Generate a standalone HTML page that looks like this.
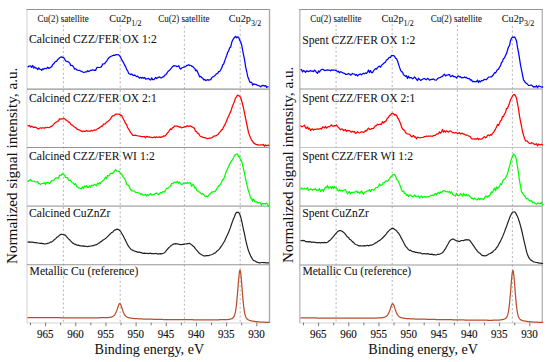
<!DOCTYPE html>
<html><head><meta charset="utf-8"><style>
html,body{margin:0;padding:0;background:#fff;}
svg{display:block;font-family:"Liberation Serif", serif;}
text{stroke:#111;stroke-width:0.05px;}
</style></head><body>
<svg width="550" height="362" viewBox="0 0 550 362">
<rect width="550" height="362" fill="#fff"/>
<line x1="63.40" y1="25.00" x2="63.40" y2="323.0" stroke="#bababa" stroke-width="1.1" stroke-dasharray="2,2.336"/>
<line x1="120.20" y1="25.00" x2="120.20" y2="323.0" stroke="#bababa" stroke-width="1.1" stroke-dasharray="2,2.336"/>
<line x1="184.40" y1="26.30" x2="184.40" y2="323.0" stroke="#bababa" stroke-width="1.1" stroke-dasharray="2,2.336"/>
<line x1="240.20" y1="25.00" x2="240.20" y2="323.0" stroke="#bababa" stroke-width="1.1" stroke-dasharray="2,2.336"/>
<line x1="27.0" y1="323.0" x2="269.5" y2="323.0" stroke="#d6d6d6" stroke-width="1.2"/>
<line x1="27.0" y1="9.45" x2="27.0" y2="323.0" stroke="#e2e2e2" stroke-width="1.6"/>
<line x1="26.4" y1="9.45" x2="270.1" y2="9.45" stroke="#939393" stroke-width="1.05"/>
<line x1="269.5" y1="9.45" x2="269.5" y2="323.0" stroke="#aaaaaa" stroke-width="1.4"/>
<line x1="27.0" y1="89.1" x2="269.5" y2="89.1" stroke="#969696" stroke-width="1.05"/>
<line x1="27.0" y1="147.45" x2="269.5" y2="147.45" stroke="#969696" stroke-width="1.05"/>
<line x1="27.0" y1="206.1" x2="269.5" y2="206.1" stroke="#a4a4a4" stroke-width="1.05"/>
<line x1="27.0" y1="264.65" x2="269.5" y2="264.65" stroke="#969696" stroke-width="1.05"/>
<line x1="30.51" y1="322.6" x2="30.51" y2="325.3" stroke="#777" stroke-width="1"/>
<line x1="45.60" y1="322.6" x2="45.60" y2="326.2" stroke="#777" stroke-width="1"/>
<text transform="translate(45.30,337.6) scale(0.95,1)" x="0" y="0" font-size="11.6" text-anchor="middle" fill="#111" style="stroke-width:0.15px">965</text>
<line x1="60.68" y1="322.6" x2="60.68" y2="325.3" stroke="#777" stroke-width="1"/>
<line x1="75.77" y1="322.6" x2="75.77" y2="326.2" stroke="#777" stroke-width="1"/>
<text transform="translate(75.47,337.6) scale(0.95,1)" x="0" y="0" font-size="11.6" text-anchor="middle" fill="#111" style="stroke-width:0.15px">960</text>
<line x1="90.85" y1="322.6" x2="90.85" y2="325.3" stroke="#777" stroke-width="1"/>
<line x1="105.94" y1="322.6" x2="105.94" y2="326.2" stroke="#777" stroke-width="1"/>
<text transform="translate(105.64,337.6) scale(0.95,1)" x="0" y="0" font-size="11.6" text-anchor="middle" fill="#111" style="stroke-width:0.15px">955</text>
<line x1="121.02" y1="322.6" x2="121.02" y2="325.3" stroke="#777" stroke-width="1"/>
<line x1="136.11" y1="322.6" x2="136.11" y2="326.2" stroke="#777" stroke-width="1"/>
<text transform="translate(135.81,337.6) scale(0.95,1)" x="0" y="0" font-size="11.6" text-anchor="middle" fill="#111" style="stroke-width:0.15px">950</text>
<line x1="151.19" y1="322.6" x2="151.19" y2="325.3" stroke="#777" stroke-width="1"/>
<line x1="166.28" y1="322.6" x2="166.28" y2="326.2" stroke="#777" stroke-width="1"/>
<text transform="translate(165.98,337.6) scale(0.95,1)" x="0" y="0" font-size="11.6" text-anchor="middle" fill="#111" style="stroke-width:0.15px">945</text>
<line x1="181.37" y1="322.6" x2="181.37" y2="325.3" stroke="#777" stroke-width="1"/>
<line x1="196.45" y1="322.6" x2="196.45" y2="326.2" stroke="#777" stroke-width="1"/>
<text transform="translate(196.15,337.6) scale(0.95,1)" x="0" y="0" font-size="11.6" text-anchor="middle" fill="#111" style="stroke-width:0.15px">940</text>
<line x1="211.54" y1="322.6" x2="211.54" y2="325.3" stroke="#777" stroke-width="1"/>
<line x1="226.62" y1="322.6" x2="226.62" y2="326.2" stroke="#777" stroke-width="1"/>
<text transform="translate(226.32,337.6) scale(0.95,1)" x="0" y="0" font-size="11.6" text-anchor="middle" fill="#111" style="stroke-width:0.15px">935</text>
<line x1="241.70" y1="322.6" x2="241.70" y2="325.3" stroke="#777" stroke-width="1"/>
<line x1="256.79" y1="322.6" x2="256.79" y2="326.2" stroke="#777" stroke-width="1"/>
<text transform="translate(256.49,337.6) scale(0.95,1)" x="0" y="0" font-size="11.6" text-anchor="middle" fill="#111" style="stroke-width:0.15px">930</text>
<line x1="336.10" y1="24.70" x2="336.10" y2="323.0" stroke="#bababa" stroke-width="1.1" stroke-dasharray="2,2.336"/>
<line x1="392.20" y1="24.20" x2="392.20" y2="323.0" stroke="#bababa" stroke-width="1.1" stroke-dasharray="2,2.336"/>
<line x1="457.40" y1="25.00" x2="457.40" y2="323.0" stroke="#bababa" stroke-width="1.1" stroke-dasharray="2,2.336"/>
<line x1="512.40" y1="26.10" x2="512.40" y2="323.0" stroke="#bababa" stroke-width="1.1" stroke-dasharray="2,2.336"/>
<line x1="299.8" y1="323.0" x2="542.3" y2="323.0" stroke="#d6d6d6" stroke-width="1.2"/>
<line x1="299.8" y1="9.45" x2="299.8" y2="323.0" stroke="#c4c4c4" stroke-width="1.6"/>
<line x1="299.2" y1="9.45" x2="542.9" y2="9.45" stroke="#939393" stroke-width="1.05"/>
<line x1="542.3" y1="9.45" x2="542.3" y2="323.0" stroke="#b8b8b8" stroke-width="1.4"/>
<line x1="299.8" y1="88.9" x2="542.3" y2="88.9" stroke="#969696" stroke-width="1.05"/>
<line x1="299.8" y1="147.45" x2="542.3" y2="147.45" stroke="#c4c4c4" stroke-width="1.05"/>
<line x1="299.8" y1="206.1" x2="542.3" y2="206.1" stroke="#a4a4a4" stroke-width="1.05"/>
<line x1="299.8" y1="264.9" x2="542.3" y2="264.9" stroke="#969696" stroke-width="1.05"/>
<line x1="303.52" y1="322.6" x2="303.52" y2="325.3" stroke="#777" stroke-width="1"/>
<line x1="318.60" y1="322.6" x2="318.60" y2="326.2" stroke="#777" stroke-width="1"/>
<text transform="translate(318.30,337.6) scale(0.95,1)" x="0" y="0" font-size="11.6" text-anchor="middle" fill="#111" style="stroke-width:0.15px">965</text>
<line x1="333.69" y1="322.6" x2="333.69" y2="325.3" stroke="#777" stroke-width="1"/>
<line x1="348.77" y1="322.6" x2="348.77" y2="326.2" stroke="#777" stroke-width="1"/>
<text transform="translate(348.47,337.6) scale(0.95,1)" x="0" y="0" font-size="11.6" text-anchor="middle" fill="#111" style="stroke-width:0.15px">960</text>
<line x1="363.86" y1="322.6" x2="363.86" y2="325.3" stroke="#777" stroke-width="1"/>
<line x1="378.94" y1="322.6" x2="378.94" y2="326.2" stroke="#777" stroke-width="1"/>
<text transform="translate(378.64,337.6) scale(0.95,1)" x="0" y="0" font-size="11.6" text-anchor="middle" fill="#111" style="stroke-width:0.15px">955</text>
<line x1="394.03" y1="322.6" x2="394.03" y2="325.3" stroke="#777" stroke-width="1"/>
<line x1="409.11" y1="322.6" x2="409.11" y2="326.2" stroke="#777" stroke-width="1"/>
<text transform="translate(408.81,337.6) scale(0.95,1)" x="0" y="0" font-size="11.6" text-anchor="middle" fill="#111" style="stroke-width:0.15px">950</text>
<line x1="424.19" y1="322.6" x2="424.19" y2="325.3" stroke="#777" stroke-width="1"/>
<line x1="439.28" y1="322.6" x2="439.28" y2="326.2" stroke="#777" stroke-width="1"/>
<text transform="translate(438.98,337.6) scale(0.95,1)" x="0" y="0" font-size="11.6" text-anchor="middle" fill="#111" style="stroke-width:0.15px">945</text>
<line x1="454.37" y1="322.6" x2="454.37" y2="325.3" stroke="#777" stroke-width="1"/>
<line x1="469.45" y1="322.6" x2="469.45" y2="326.2" stroke="#777" stroke-width="1"/>
<text transform="translate(469.15,337.6) scale(0.95,1)" x="0" y="0" font-size="11.6" text-anchor="middle" fill="#111" style="stroke-width:0.15px">940</text>
<line x1="484.54" y1="322.6" x2="484.54" y2="325.3" stroke="#777" stroke-width="1"/>
<line x1="499.62" y1="322.6" x2="499.62" y2="326.2" stroke="#777" stroke-width="1"/>
<text transform="translate(499.32,337.6) scale(0.95,1)" x="0" y="0" font-size="11.6" text-anchor="middle" fill="#111" style="stroke-width:0.15px">935</text>
<line x1="514.70" y1="322.6" x2="514.70" y2="325.3" stroke="#777" stroke-width="1"/>
<line x1="529.79" y1="322.6" x2="529.79" y2="326.2" stroke="#777" stroke-width="1"/>
<text transform="translate(529.49,337.6) scale(0.95,1)" x="0" y="0" font-size="11.6" text-anchor="middle" fill="#111" style="stroke-width:0.15px">930</text>
<path d="M27.7,67.4 L28.7,66.1 L29.7,66.2 L30.7,66.0 L31.7,67.3 L32.7,65.5 L33.7,68.1 L34.7,67.0 L35.7,68.1 L36.7,68.2 L37.7,69.6 L38.7,67.8 L39.7,69.1 L40.7,69.3 L41.7,70.3 L42.7,68.9 L43.7,69.3 L44.7,68.4 L45.7,68.5 L46.7,68.5 L47.7,67.2 L48.7,68.4 L49.7,67.9 L50.7,67.2 L51.7,66.6 L52.7,64.6 L53.7,63.8 L54.7,62.3 L55.7,61.6 L56.7,61.1 L57.7,59.5 L58.7,58.8 L59.7,57.8 L60.7,57.1 L61.7,56.9 L62.7,57.5 L63.7,57.5 L64.7,59.2 L65.7,61.0 L66.7,61.3 L67.7,61.7 L68.7,62.1 L69.7,63.1 L70.7,65.5 L71.7,65.4 L72.7,65.8 L73.7,67.2 L74.7,69.2 L75.7,68.7 L76.7,69.8 L77.7,70.2 L78.7,70.4 L79.7,70.4 L80.7,71.1 L81.7,71.4 L82.7,72.0 L83.7,72.3 L84.7,72.3 L85.7,71.8 L86.7,71.9 L87.7,70.7 L88.7,71.6 L89.7,70.9 L90.7,70.2 L91.7,70.4 L92.7,69.8 L93.7,70.3 L94.7,70.2 L95.7,70.3 L96.7,67.8 L97.7,67.3 L98.7,67.5 L99.7,67.4 L100.7,67.2 L101.7,66.2 L102.7,63.9 L103.7,64.0 L104.7,63.6 L105.7,62.1 L106.7,61.1 L107.7,59.3 L108.7,58.0 L109.7,57.1 L110.7,56.5 L111.7,56.0 L112.7,55.7 L113.7,55.1 L114.7,55.4 L115.7,54.7 L116.7,54.7 L117.7,54.6 L118.7,54.8 L119.7,55.9 L120.7,57.4 L121.7,59.7 L122.7,61.3 L123.7,62.9 L124.7,65.2 L125.7,66.8 L126.7,69.6 L127.7,70.9 L128.7,73.5 L129.7,74.0 L130.7,74.6 L131.7,73.9 L132.7,75.0 L133.7,75.6 L134.7,75.0 L135.7,75.9 L136.7,76.6 L137.7,76.1 L138.7,77.5 L139.7,78.1 L140.7,77.3 L141.7,78.2 L142.7,77.4 L143.7,78.3 L144.7,77.5 L145.7,79.2 L146.7,78.9 L147.7,78.7 L148.7,78.3 L149.7,79.6 L150.7,80.0 L151.7,77.8 L152.7,79.6 L153.7,79.7 L154.7,78.7 L155.7,77.5 L156.7,78.5 L157.7,77.7 L158.7,77.3 L159.7,76.9 L160.7,77.9 L161.7,77.9 L162.7,76.8 L163.7,76.9 L164.7,75.0 L165.7,74.9 L166.7,73.3 L167.7,71.9 L168.7,70.8 L169.7,70.2 L170.7,68.9 L171.7,67.7 L172.7,66.4 L173.7,65.7 L174.7,65.8 L175.7,65.8 L176.7,66.6 L177.7,66.5 L178.7,65.6 L179.7,68.0 L180.7,69.0 L181.7,68.0 L182.7,67.5 L183.7,67.2 L184.7,66.9 L185.7,66.6 L186.7,65.4 L187.7,65.3 L188.7,64.7 L189.7,65.5 L190.7,65.4 L191.7,66.3 L192.7,66.4 L193.7,67.8 L194.7,68.3 L195.7,70.9 L196.7,70.1 L197.7,72.3 L198.7,74.6 L199.7,76.9 L200.7,76.4 L201.7,77.6 L202.7,78.2 L203.7,79.8 L204.7,79.5 L205.7,80.5 L206.7,80.2 L207.7,79.6 L208.7,80.3 L209.7,79.8 L210.7,79.6 L211.7,77.9 L212.7,76.8 L213.7,76.6 L214.7,75.6 L215.7,74.7 L216.7,73.6 L217.7,73.3 L218.7,71.7 L219.7,71.5 L220.7,69.8 L221.7,68.1 L222.7,65.0 L223.7,64.0 L224.7,60.9 L225.7,58.1 L226.7,55.5 L227.7,52.2 L228.7,50.8 L229.7,47.8 L230.7,47.0 L231.7,42.6 L232.7,40.1 L233.7,38.3 L234.7,37.3 L235.7,36.3 L236.7,37.8 L237.7,36.9 L238.7,37.3 L239.7,40.4 L240.7,41.9 L241.7,45.0 L242.7,50.7 L243.7,55.7 L244.7,60.7 L245.7,67.3 L246.7,71.5 L247.7,76.4 L248.7,78.9 L249.7,81.9 L250.7,82.4 L251.7,82.4 L252.7,85.2 L253.7,83.8 L254.7,84.3 L255.7,84.3 L256.7,84.9 L257.7,85.4 L258.7,85.6 L259.7,86.0 L260.7,86.9 L261.7,85.9 L262.7,85.4 L263.7,85.6 L264.7,86.1 L265.7,85.7 L266.7,87.3 L267.7,86.7 L268.5,86.9" fill="none" stroke="#0000ff" stroke-width="1.25" stroke-linejoin="round"/>
<path d="M27.5,125.5 L28.5,125.9 L29.5,125.5 L30.5,127.1 L31.5,126.1 L32.5,126.7 L33.5,127.4 L34.5,127.1 L35.5,127.4 L36.5,127.7 L37.5,128.4 L38.5,129.1 L39.5,128.3 L40.5,127.8 L41.5,128.3 L42.5,127.8 L43.5,127.9 L44.5,128.2 L45.5,127.5 L46.5,127.7 L47.5,127.3 L48.5,127.5 L49.5,127.5 L50.5,126.7 L51.5,126.4 L52.5,125.6 L53.5,124.6 L54.5,123.4 L55.5,122.5 L56.5,122.0 L57.5,121.1 L58.5,121.1 L59.5,118.8 L60.5,119.2 L61.5,118.8 L62.5,118.9 L63.5,118.7 L64.5,118.6 L65.5,119.5 L66.5,120.5 L67.5,120.9 L68.5,122.1 L69.5,122.0 L70.5,124.1 L71.5,124.9 L72.5,125.1 L73.5,126.3 L74.5,127.0 L75.5,127.5 L76.5,128.5 L77.5,129.5 L78.5,129.5 L79.5,130.0 L80.5,130.6 L81.5,131.1 L82.5,131.6 L83.5,131.0 L84.5,131.4 L85.5,131.3 L86.5,130.5 L87.5,131.1 L88.5,131.1 L89.5,131.2 L90.5,131.2 L91.5,130.3 L92.5,130.9 L93.5,130.5 L94.5,129.9 L95.5,130.2 L96.5,129.7 L97.5,128.6 L98.5,128.5 L99.5,127.5 L100.5,127.0 L101.5,126.0 L102.5,126.2 L103.5,124.0 L104.5,124.2 L105.5,123.8 L106.5,122.1 L107.5,121.8 L108.5,120.9 L109.5,120.0 L110.5,118.9 L111.5,117.2 L112.5,115.8 L113.5,115.9 L114.5,115.2 L115.5,114.2 L116.5,114.2 L117.5,114.0 L118.5,114.1 L119.5,114.3 L120.5,115.3 L121.5,115.1 L122.5,117.5 L123.5,119.2 L124.5,121.0 L125.5,123.5 L126.5,124.3 L127.5,127.4 L128.5,129.0 L129.5,130.3 L130.5,132.5 L131.5,133.4 L132.5,135.1 L133.5,135.4 L134.5,135.3 L135.5,135.2 L136.5,135.5 L137.5,135.9 L138.5,136.0 L139.5,136.1 L140.5,136.3 L141.5,136.6 L142.5,136.6 L143.5,136.6 L144.5,136.5 L145.5,137.8 L146.5,136.4 L147.5,136.6 L148.5,137.2 L149.5,136.9 L150.5,137.2 L151.5,137.4 L152.5,137.6 L153.5,137.5 L154.5,136.9 L155.5,137.7 L156.5,136.8 L157.5,137.3 L158.5,137.2 L159.5,136.9 L160.5,137.4 L161.5,136.9 L162.5,137.0 L163.5,135.8 L164.5,136.2 L165.5,135.5 L166.5,134.4 L167.5,132.7 L168.5,132.0 L169.5,130.3 L170.5,128.8 L171.5,129.5 L172.5,127.7 L173.5,127.3 L174.5,126.0 L175.5,126.1 L176.5,126.0 L177.5,126.2 L178.5,126.6 L179.5,127.1 L180.5,126.9 L181.5,127.9 L182.5,127.5 L183.5,127.4 L184.5,126.5 L185.5,127.0 L186.5,126.2 L187.5,125.8 L188.5,126.5 L189.5,126.1 L190.5,125.9 L191.5,126.6 L192.5,127.2 L193.5,127.5 L194.5,128.5 L195.5,131.2 L196.5,131.6 L197.5,133.3 L198.5,133.3 L199.5,135.3 L200.5,136.4 L201.5,136.7 L202.5,136.9 L203.5,137.7 L204.5,137.7 L205.5,137.8 L206.5,138.6 L207.5,138.7 L208.5,138.4 L209.5,138.0 L210.5,138.1 L211.5,137.8 L212.5,137.4 L213.5,136.2 L214.5,136.1 L215.5,135.9 L216.5,135.4 L217.5,134.8 L218.5,134.0 L219.5,132.4 L220.5,131.4 L221.5,129.9 L222.5,129.4 L223.5,127.1 L224.5,125.4 L225.5,123.6 L226.5,121.0 L227.5,118.5 L228.5,116.4 L229.5,114.1 L230.5,112.1 L231.5,109.3 L232.5,105.9 L233.5,103.8 L234.5,101.1 L235.5,98.1 L236.5,96.8 L237.5,95.1 L238.5,95.6 L239.5,96.0 L240.5,97.3 L241.5,100.1 L242.5,104.0 L243.5,108.0 L244.5,113.1 L245.5,118.2 L246.5,122.8 L247.5,127.5 L248.5,132.4 L249.5,135.3 L250.5,137.8 L251.5,140.1 L252.5,141.0 L253.5,142.9 L254.5,143.4 L255.5,144.2 L256.5,144.6 L257.5,144.7 L258.5,145.1 L259.5,145.0 L260.5,144.8 L261.5,144.8 L262.5,145.1 L263.5,144.5 L264.5,146.1 L265.5,145.0 L266.5,145.6 L267.5,145.3 L268.5,145.1 L269.0,145.8" fill="none" stroke="#ff0000" stroke-width="1.25" stroke-linejoin="round"/>
<path d="M27.5,181.7 L28.5,180.8 L29.5,180.8 L30.5,179.5 L31.5,180.9 L32.5,181.0 L33.5,181.5 L34.5,181.3 L35.5,182.0 L36.5,181.9 L37.5,181.5 L38.5,183.4 L39.5,183.7 L40.5,184.6 L41.5,183.6 L42.5,183.5 L43.5,183.4 L44.5,182.6 L45.5,184.4 L46.5,182.6 L47.5,182.3 L48.5,182.7 L49.5,183.6 L50.5,182.3 L51.5,180.9 L52.5,180.5 L53.5,180.7 L54.5,179.4 L55.5,178.2 L56.5,177.8 L57.5,177.9 L58.5,178.1 L59.5,175.2 L60.5,175.3 L61.5,174.9 L62.5,173.5 L63.5,174.6 L64.5,175.0 L65.5,177.5 L66.5,177.6 L67.5,177.5 L68.5,180.2 L69.5,180.3 L70.5,180.2 L71.5,181.9 L72.5,182.7 L73.5,183.3 L74.5,184.7 L75.5,183.7 L76.5,185.9 L77.5,187.3 L78.5,187.6 L79.5,188.1 L80.5,188.3 L81.5,188.7 L82.5,186.8 L83.5,188.3 L84.5,186.1 L85.5,186.8 L86.5,185.5 L87.5,187.4 L88.5,187.3 L89.5,185.9 L90.5,187.2 L91.5,185.2 L92.5,185.6 L93.5,185.4 L94.5,184.2 L95.5,185.0 L96.5,185.8 L97.5,183.1 L98.5,184.0 L99.5,182.6 L100.5,183.5 L101.5,181.8 L102.5,181.1 L103.5,180.3 L104.5,179.1 L105.5,177.1 L106.5,178.4 L107.5,175.5 L108.5,175.9 L109.5,175.3 L110.5,173.3 L111.5,173.4 L112.5,173.5 L113.5,172.2 L114.5,171.2 L115.5,169.5 L116.5,170.8 L117.5,171.1 L118.5,171.4 L119.5,171.7 L120.5,173.6 L121.5,173.9 L122.5,175.7 L123.5,177.8 L124.5,178.3 L125.5,180.5 L126.5,184.1 L127.5,185.0 L128.5,185.0 L129.5,187.5 L130.5,189.4 L131.5,190.9 L132.5,190.8 L133.5,190.8 L134.5,191.0 L135.5,192.4 L136.5,192.5 L137.5,192.3 L138.5,193.0 L139.5,193.2 L140.5,194.4 L141.5,193.6 L142.5,194.7 L143.5,195.1 L144.5,195.0 L145.5,194.2 L146.5,195.9 L147.5,194.5 L148.5,195.4 L149.5,194.5 L150.5,193.7 L151.5,195.0 L152.5,194.8 L153.5,194.3 L154.5,194.3 L155.5,193.4 L156.5,193.1 L157.5,193.3 L158.5,194.7 L159.5,193.7 L160.5,192.5 L161.5,193.1 L162.5,192.0 L163.5,191.6 L164.5,192.0 L165.5,190.2 L166.5,188.5 L167.5,188.1 L168.5,187.9 L169.5,186.7 L170.5,186.2 L171.5,183.5 L172.5,183.7 L173.5,182.9 L174.5,182.1 L175.5,182.6 L176.5,182.3 L177.5,181.3 L178.5,183.2 L179.5,182.2 L180.5,183.8 L181.5,184.1 L182.5,184.3 L183.5,183.0 L184.5,183.1 L185.5,182.8 L186.5,183.6 L187.5,182.4 L188.5,183.2 L189.5,183.2 L190.5,182.8 L191.5,186.3 L192.5,184.9 L193.5,184.6 L194.5,187.9 L195.5,187.3 L196.5,189.7 L197.5,191.2 L198.5,191.2 L199.5,192.3 L200.5,193.1 L201.5,194.2 L202.5,193.6 L203.5,194.4 L204.5,195.6 L205.5,196.6 L206.5,196.2 L207.5,196.8 L208.5,195.6 L209.5,194.2 L210.5,194.0 L211.5,192.0 L212.5,192.2 L213.5,191.5 L214.5,191.7 L215.5,191.1 L216.5,189.1 L217.5,188.0 L218.5,185.9 L219.5,185.4 L220.5,184.1 L221.5,182.5 L222.5,179.6 L223.5,179.6 L224.5,176.8 L225.5,173.6 L226.5,171.0 L227.5,168.8 L228.5,166.8 L229.5,164.4 L230.5,162.6 L231.5,160.9 L232.5,159.6 L233.5,157.8 L234.5,155.4 L235.5,154.8 L236.5,153.9 L237.5,154.0 L238.5,156.8 L239.5,156.3 L240.5,160.0 L241.5,160.7 L242.5,164.3 L243.5,169.0 L244.5,173.1 L245.5,178.5 L246.5,182.8 L247.5,187.1 L248.5,191.1 L249.5,193.8 L250.5,197.9 L251.5,198.5 L252.5,201.3 L253.5,198.9 L254.5,201.4 L255.5,202.1 L256.5,201.7 L257.5,202.9 L258.5,202.8 L259.5,202.3 L260.5,203.1 L261.5,205.2 L262.5,203.5 L263.5,203.8 L264.5,203.5 L265.5,204.1 L266.5,203.1 L267.5,204.1 L268.5,206.2 L269.5,205.2" fill="none" stroke="#00ff00" stroke-width="1.25" stroke-linejoin="round"/>
<path d="M27.5,241.9 L28.5,242.1 L29.5,241.9 L30.5,242.3 L31.5,242.2 L32.5,242.1 L33.5,242.4 L34.5,242.7 L35.5,242.7 L36.5,242.6 L37.5,243.0 L38.5,243.0 L39.5,243.3 L40.5,243.4 L41.5,243.2 L42.5,243.6 L43.5,243.6 L44.5,244.0 L45.5,243.9 L46.5,243.7 L47.5,243.4 L48.5,243.2 L49.5,242.8 L50.5,242.1 L51.5,242.2 L52.5,241.2 L53.5,240.7 L54.5,239.3 L55.5,239.0 L56.5,237.6 L57.5,236.9 L58.5,236.2 L59.5,235.3 L60.5,234.3 L61.5,234.3 L62.5,234.5 L63.5,234.8 L64.5,234.9 L65.5,235.4 L66.5,236.7 L67.5,237.6 L68.5,239.0 L69.5,239.6 L70.5,240.9 L71.5,241.8 L72.5,242.9 L73.5,243.4 L74.5,244.2 L75.5,244.4 L76.5,244.9 L77.5,245.3 L78.5,245.1 L79.5,245.7 L80.5,245.9 L81.5,245.8 L82.5,246.1 L83.5,245.9 L84.5,246.3 L85.5,246.3 L86.5,246.3 L87.5,246.7 L88.5,246.4 L89.5,246.3 L90.5,246.0 L91.5,246.0 L92.5,245.6 L93.5,245.7 L94.5,245.0 L95.5,244.8 L96.5,244.7 L97.5,244.1 L98.5,243.3 L99.5,242.9 L100.5,241.9 L101.5,241.4 L102.5,240.5 L103.5,239.7 L104.5,239.2 L105.5,238.6 L106.5,237.6 L107.5,236.6 L108.5,235.8 L109.5,234.5 L110.5,233.7 L111.5,232.6 L112.5,232.3 L113.5,231.1 L114.5,230.1 L115.5,229.9 L116.5,229.3 L117.5,229.2 L118.5,229.5 L119.5,230.3 L120.5,231.3 L121.5,233.0 L122.5,234.7 L123.5,236.4 L124.5,238.5 L125.5,240.4 L126.5,242.6 L127.5,244.6 L128.5,246.2 L129.5,247.6 L130.5,248.6 L131.5,249.8 L132.5,250.1 L133.5,250.6 L134.5,251.0 L135.5,251.4 L136.5,251.6 L137.5,252.3 L138.5,252.2 L139.5,252.1 L140.5,252.6 L141.5,252.6 L142.5,253.2 L143.5,253.4 L144.5,253.2 L145.5,253.4 L146.5,253.3 L147.5,253.4 L148.5,253.7 L149.5,253.3 L150.5,253.2 L151.5,253.6 L152.5,253.6 L153.5,253.6 L154.5,253.7 L155.5,253.5 L156.5,253.4 L157.5,254.1 L158.5,253.9 L159.5,253.8 L160.5,253.7 L161.5,253.9 L162.5,253.5 L163.5,253.2 L164.5,252.7 L165.5,251.6 L166.5,250.3 L167.5,249.1 L168.5,248.0 L169.5,247.1 L170.5,246.1 L171.5,245.4 L172.5,244.6 L173.5,244.1 L174.5,243.8 L175.5,243.7 L176.5,243.8 L177.5,243.8 L178.5,244.1 L179.5,244.3 L180.5,244.6 L181.5,244.7 L182.5,244.3 L183.5,244.4 L184.5,244.1 L185.5,244.0 L186.5,243.9 L187.5,243.5 L188.5,243.6 L189.5,243.3 L190.5,243.9 L191.5,244.7 L192.5,245.4 L193.5,246.6 L194.5,247.3 L195.5,248.8 L196.5,249.8 L197.5,251.2 L198.5,252.3 L199.5,253.5 L200.5,254.0 L201.5,254.8 L202.5,255.1 L203.5,255.9 L204.5,255.8 L205.5,255.8 L206.5,255.6 L207.5,255.7 L208.5,255.7 L209.5,255.2 L210.5,255.0 L211.5,254.7 L212.5,254.3 L213.5,253.8 L214.5,253.0 L215.5,252.8 L216.5,251.5 L217.5,250.8 L218.5,249.9 L219.5,248.9 L220.5,247.4 L221.5,245.9 L222.5,244.5 L223.5,242.8 L224.5,241.2 L225.5,239.0 L226.5,236.8 L227.5,234.7 L228.5,232.4 L229.5,230.1 L230.5,227.4 L231.5,224.3 L232.5,221.4 L233.5,218.8 L234.5,216.7 L235.5,213.8 L236.5,212.4 L237.5,212.3 L238.5,212.4 L239.5,213.8 L240.5,216.3 L241.5,220.1 L242.5,224.9 L243.5,229.6 L244.5,233.9 L245.5,239.1 L246.5,243.3 L247.5,247.3 L248.5,250.8 L249.5,253.2 L250.5,255.6 L251.5,257.4 L252.5,259.3 L253.5,260.4 L254.5,260.8 L255.5,261.2 L256.5,262.1 L257.5,262.2 L258.5,262.7 L259.5,262.8 L260.5,262.8 L261.5,262.5 L262.5,262.5 L263.5,262.6 L264.5,262.7 L265.5,262.6 L266.5,263.0 L267.5,262.9 L268.5,262.8 L269.0,262.7" fill="none" stroke="#222222" stroke-width="1.2" stroke-linejoin="round"/>
<path d="M300.5,69.7 L301.5,69.6 L302.5,71.9 L303.5,70.5 L304.5,71.1 L305.5,72.4 L306.5,70.8 L307.5,71.1 L308.5,71.6 L309.5,71.2 L310.5,70.5 L311.5,71.2 L312.5,71.0 L313.5,71.7 L314.5,70.1 L315.5,70.9 L316.5,72.5 L317.5,73.3 L318.5,71.0 L319.5,72.1 L320.5,70.3 L321.5,69.7 L322.5,69.3 L323.5,69.5 L324.5,70.5 L325.5,70.4 L326.5,70.1 L327.5,69.9 L328.5,70.2 L329.5,70.2 L330.5,70.8 L331.5,69.8 L332.5,70.1 L333.5,70.0 L334.5,70.0 L335.5,70.3 L336.5,70.6 L337.5,71.8 L338.5,71.2 L339.5,72.8 L340.5,71.8 L341.5,72.0 L342.5,72.7 L343.5,73.1 L344.5,73.3 L345.5,74.3 L346.5,74.4 L347.5,74.1 L348.5,73.7 L349.5,74.0 L350.5,75.2 L351.5,74.5 L352.5,73.5 L353.5,74.0 L354.5,74.1 L355.5,75.3 L356.5,74.4 L357.5,76.0 L358.5,74.9 L359.5,74.4 L360.5,74.0 L361.5,74.9 L362.5,73.9 L363.5,73.2 L364.5,73.8 L365.5,73.0 L366.5,73.4 L367.5,72.2 L368.5,70.1 L369.5,72.5 L370.5,70.5 L371.5,72.7 L372.5,72.7 L373.5,70.8 L374.5,69.7 L375.5,68.6 L376.5,69.2 L377.5,67.6 L378.5,66.6 L379.5,66.2 L380.5,67.2 L381.5,65.2 L382.5,64.5 L383.5,63.6 L384.5,62.8 L385.5,62.0 L386.5,60.0 L387.5,59.6 L388.5,58.3 L389.5,57.3 L390.5,57.5 L391.5,55.6 L392.5,55.7 L393.5,55.5 L394.5,56.2 L395.5,58.1 L396.5,58.7 L397.5,60.8 L398.5,64.1 L399.5,67.1 L400.5,70.1 L401.5,71.8 L402.5,71.9 L403.5,74.7 L404.5,75.4 L405.5,76.4 L406.5,75.7 L407.5,78.5 L408.5,76.2 L409.5,77.9 L410.5,77.7 L411.5,77.6 L412.5,78.8 L413.5,78.2 L414.5,77.0 L415.5,78.0 L416.5,79.3 L417.5,80.6 L418.5,78.2 L419.5,79.3 L420.5,80.4 L421.5,79.9 L422.5,79.3 L423.5,78.7 L424.5,78.5 L425.5,79.3 L426.5,79.7 L427.5,78.4 L428.5,78.8 L429.5,80.2 L430.5,79.7 L431.5,79.3 L432.5,79.4 L433.5,78.9 L434.5,79.8 L435.5,80.0 L436.5,80.0 L437.5,78.6 L438.5,78.0 L439.5,77.7 L440.5,77.3 L441.5,76.7 L442.5,76.3 L443.5,74.9 L444.5,74.2 L445.5,75.9 L446.5,75.2 L447.5,75.2 L448.5,74.7 L449.5,74.6 L450.5,76.7 L451.5,76.2 L452.5,75.3 L453.5,76.5 L454.5,76.5 L455.5,76.8 L456.5,78.0 L457.5,76.5 L458.5,75.8 L459.5,76.9 L460.5,76.7 L461.5,77.8 L462.5,77.7 L463.5,77.7 L464.5,77.0 L465.5,77.7 L466.5,77.3 L467.5,78.5 L468.5,78.6 L469.5,78.6 L470.5,80.2 L471.5,79.8 L472.5,81.7 L473.5,81.4 L474.5,81.7 L475.5,81.7 L476.5,81.7 L477.5,80.1 L478.5,82.5 L479.5,80.9 L480.5,81.9 L481.5,80.5 L482.5,80.6 L483.5,80.2 L484.5,79.3 L485.5,79.5 L486.5,79.5 L487.5,78.3 L488.5,77.1 L489.5,77.0 L490.5,76.9 L491.5,76.8 L492.5,75.8 L493.5,74.5 L494.5,72.7 L495.5,73.0 L496.5,71.2 L497.5,69.7 L498.5,69.1 L499.5,67.3 L500.5,65.6 L501.5,62.7 L502.5,61.3 L503.5,58.6 L504.5,57.9 L505.5,55.5 L506.5,53.6 L507.5,50.2 L508.5,46.8 L509.5,45.7 L510.5,40.7 L511.5,38.2 L512.5,37.2 L513.5,37.3 L514.5,36.9 L515.5,38.4 L516.5,40.9 L517.5,47.5 L518.5,52.3 L519.5,58.3 L520.5,65.0 L521.5,69.9 L522.5,74.9 L523.5,79.8 L524.5,81.2 L525.5,82.8 L526.5,83.4 L527.5,84.1 L528.5,85.3 L529.5,85.5 L530.5,85.2 L531.5,85.1 L532.5,86.0 L533.5,87.0 L534.5,86.7 L535.5,86.8 L536.5,85.7 L537.5,87.7 L538.5,86.0 L539.5,86.1 L540.5,86.7 L541.5,87.0 L542.5,87.0 L543.0,86.5" fill="none" stroke="#0000ff" stroke-width="1.25" stroke-linejoin="round"/>
<path d="M300.5,125.5 L301.5,126.5 L302.5,126.5 L303.5,126.0 L304.5,125.2 L305.5,127.9 L306.5,128.3 L307.5,126.8 L308.5,129.2 L309.5,128.1 L310.5,130.5 L311.5,129.3 L312.5,128.8 L313.5,130.1 L314.5,129.3 L315.5,129.3 L316.5,129.2 L317.5,128.8 L318.5,129.1 L319.5,129.0 L320.5,128.4 L321.5,129.2 L322.5,126.8 L323.5,127.2 L324.5,127.9 L325.5,126.4 L326.5,128.1 L327.5,127.3 L328.5,126.5 L329.5,126.8 L330.5,125.7 L331.5,124.8 L332.5,126.1 L333.5,126.1 L334.5,125.6 L335.5,125.8 L336.5,125.0 L337.5,126.6 L338.5,127.5 L339.5,128.6 L340.5,129.8 L341.5,128.9 L342.5,129.0 L343.5,130.6 L344.5,130.1 L345.5,129.5 L346.5,131.5 L347.5,130.3 L348.5,130.7 L349.5,130.5 L350.5,131.6 L351.5,132.2 L352.5,131.3 L353.5,132.0 L354.5,131.5 L355.5,133.5 L356.5,133.0 L357.5,131.6 L358.5,132.5 L359.5,132.8 L360.5,132.5 L361.5,131.6 L362.5,132.0 L363.5,132.4 L364.5,131.8 L365.5,130.5 L366.5,130.9 L367.5,129.4 L368.5,128.1 L369.5,129.3 L370.5,129.3 L371.5,128.5 L372.5,128.7 L373.5,128.4 L374.5,126.9 L375.5,125.7 L376.5,125.6 L377.5,124.2 L378.5,124.7 L379.5,124.3 L380.5,124.1 L381.5,124.3 L382.5,121.6 L383.5,123.1 L384.5,121.6 L385.5,121.7 L386.5,120.1 L387.5,117.8 L388.5,117.6 L389.5,115.3 L390.5,115.2 L391.5,113.7 L392.5,113.3 L393.5,113.7 L394.5,115.1 L395.5,114.6 L396.5,115.0 L397.5,117.8 L398.5,118.8 L399.5,121.2 L400.5,123.5 L401.5,126.9 L402.5,128.8 L403.5,129.8 L404.5,130.2 L405.5,132.5 L406.5,133.5 L407.5,133.8 L408.5,134.0 L409.5,134.4 L410.5,135.3 L411.5,136.9 L412.5,136.4 L413.5,135.4 L414.5,137.3 L415.5,136.8 L416.5,138.9 L417.5,137.2 L418.5,137.5 L419.5,137.7 L420.5,137.8 L421.5,137.5 L422.5,137.4 L423.5,137.1 L424.5,136.7 L425.5,136.7 L426.5,136.0 L427.5,136.3 L428.5,136.1 L429.5,136.2 L430.5,136.0 L431.5,136.1 L432.5,136.3 L433.5,135.5 L434.5,135.4 L435.5,135.1 L436.5,134.2 L437.5,133.9 L438.5,133.8 L439.5,131.9 L440.5,133.2 L441.5,132.0 L442.5,129.4 L443.5,132.1 L444.5,130.8 L445.5,132.2 L446.5,130.9 L447.5,131.5 L448.5,132.1 L449.5,131.0 L450.5,130.9 L451.5,131.6 L452.5,132.7 L453.5,132.7 L454.5,133.0 L455.5,132.5 L456.5,132.7 L457.5,133.4 L458.5,133.3 L459.5,132.6 L460.5,134.0 L461.5,133.3 L462.5,133.3 L463.5,134.2 L464.5,134.2 L465.5,135.1 L466.5,135.1 L467.5,135.1 L468.5,136.0 L469.5,136.3 L470.5,137.1 L471.5,138.8 L472.5,138.8 L473.5,138.8 L474.5,139.1 L475.5,138.9 L476.5,139.2 L477.5,138.2 L478.5,139.5 L479.5,138.7 L480.5,139.2 L481.5,139.2 L482.5,138.5 L483.5,137.3 L484.5,136.7 L485.5,137.8 L486.5,137.3 L487.5,135.3 L488.5,135.0 L489.5,135.9 L490.5,134.5 L491.5,135.1 L492.5,133.2 L493.5,132.5 L494.5,130.7 L495.5,129.1 L496.5,126.9 L497.5,124.4 L498.5,125.3 L499.5,123.3 L500.5,120.7 L501.5,120.0 L502.5,116.4 L503.5,116.6 L504.5,113.9 L505.5,112.7 L506.5,108.3 L507.5,108.3 L508.5,105.8 L509.5,103.1 L510.5,99.8 L511.5,98.0 L512.5,95.9 L513.5,94.6 L514.5,94.5 L515.5,95.8 L516.5,98.3 L517.5,103.4 L518.5,109.0 L519.5,115.8 L520.5,121.5 L521.5,126.0 L522.5,131.5 L523.5,135.1 L524.5,138.2 L525.5,140.9 L526.5,140.8 L527.5,141.4 L528.5,142.6 L529.5,143.2 L530.5,143.7 L531.5,142.7 L532.5,143.0 L533.5,143.5 L534.5,144.5 L535.5,144.3 L536.5,143.7 L537.5,145.8 L538.5,144.2 L539.5,144.6 L540.5,144.8 L541.5,144.3 L542.5,144.9 L543.0,145.0" fill="none" stroke="#ff0000" stroke-width="1.25" stroke-linejoin="round"/>
<path d="M300.5,189.7 L301.5,188.0 L302.5,188.6 L303.5,189.1 L304.5,188.2 L305.5,189.0 L306.5,189.1 L307.5,187.7 L308.5,190.2 L309.5,189.9 L310.5,188.9 L311.5,189.4 L312.5,190.0 L313.5,189.4 L314.5,189.5 L315.5,188.5 L316.5,190.3 L317.5,190.0 L318.5,190.1 L319.5,188.6 L320.5,191.4 L321.5,190.1 L322.5,189.5 L323.5,191.3 L324.5,189.0 L325.5,187.1 L326.5,187.5 L327.5,185.5 L328.5,188.2 L329.5,187.0 L330.5,186.9 L331.5,188.6 L332.5,186.5 L333.5,188.6 L334.5,186.6 L335.5,188.0 L336.5,187.8 L337.5,190.3 L338.5,190.9 L339.5,189.5 L340.5,190.8 L341.5,190.2 L342.5,191.1 L343.5,190.3 L344.5,189.7 L345.5,189.9 L346.5,192.0 L347.5,193.8 L348.5,192.3 L349.5,191.7 L350.5,193.8 L351.5,192.4 L352.5,192.3 L353.5,192.4 L354.5,192.1 L355.5,191.9 L356.5,191.0 L357.5,192.6 L358.5,192.2 L359.5,193.4 L360.5,192.2 L361.5,191.0 L362.5,192.6 L363.5,194.3 L364.5,192.5 L365.5,191.9 L366.5,191.3 L367.5,190.8 L368.5,190.9 L369.5,189.6 L370.5,191.4 L371.5,189.5 L372.5,189.4 L373.5,190.1 L374.5,189.8 L375.5,187.8 L376.5,187.7 L377.5,187.4 L378.5,186.0 L379.5,184.0 L380.5,185.5 L381.5,185.1 L382.5,184.1 L383.5,182.5 L384.5,182.5 L385.5,181.5 L386.5,180.8 L387.5,181.2 L388.5,180.3 L389.5,178.5 L390.5,177.3 L391.5,176.3 L392.5,174.9 L393.5,174.6 L394.5,174.4 L395.5,175.9 L396.5,179.3 L397.5,180.0 L398.5,181.6 L399.5,184.3 L400.5,186.6 L401.5,189.8 L402.5,191.5 L403.5,191.1 L404.5,193.5 L405.5,193.2 L406.5,195.4 L407.5,194.8 L408.5,196.4 L409.5,194.8 L410.5,195.2 L411.5,195.9 L412.5,196.7 L413.5,196.4 L414.5,195.0 L415.5,196.3 L416.5,196.3 L417.5,196.1 L418.5,196.0 L419.5,198.1 L420.5,196.4 L421.5,196.1 L422.5,197.3 L423.5,196.9 L424.5,196.6 L425.5,197.3 L426.5,196.9 L427.5,196.7 L428.5,197.1 L429.5,196.4 L430.5,195.4 L431.5,195.5 L432.5,195.2 L433.5,195.6 L434.5,194.3 L435.5,193.4 L436.5,194.8 L437.5,193.2 L438.5,192.2 L439.5,193.6 L440.5,192.0 L441.5,192.5 L442.5,191.4 L443.5,190.8 L444.5,190.7 L445.5,191.5 L446.5,191.8 L447.5,191.5 L448.5,192.2 L449.5,191.4 L450.5,193.1 L451.5,192.0 L452.5,193.8 L453.5,195.0 L454.5,195.5 L455.5,196.0 L456.5,193.3 L457.5,195.2 L458.5,195.6 L459.5,195.4 L460.5,193.7 L461.5,194.9 L462.5,196.1 L463.5,193.3 L464.5,195.1 L465.5,195.8 L466.5,194.5 L467.5,195.9 L468.5,195.1 L469.5,196.1 L470.5,196.9 L471.5,198.3 L472.5,198.4 L473.5,199.5 L474.5,198.0 L475.5,198.9 L476.5,199.9 L477.5,199.6 L478.5,198.1 L479.5,199.7 L480.5,198.6 L481.5,199.2 L482.5,198.9 L483.5,199.4 L484.5,198.2 L485.5,196.2 L486.5,196.2 L487.5,197.4 L488.5,195.7 L489.5,195.8 L490.5,193.9 L491.5,191.9 L492.5,192.4 L493.5,189.9 L494.5,188.1 L495.5,190.9 L496.5,186.8 L497.5,188.3 L498.5,187.8 L499.5,186.2 L500.5,183.6 L501.5,184.7 L502.5,181.2 L503.5,179.8 L504.5,179.1 L505.5,178.3 L506.5,175.8 L507.5,173.9 L508.5,169.8 L509.5,166.6 L510.5,162.1 L511.5,158.9 L512.5,156.3 L513.5,154.0 L514.5,155.1 L515.5,156.3 L516.5,160.2 L517.5,166.7 L518.5,173.2 L519.5,180.6 L520.5,186.2 L521.5,191.9 L522.5,192.9 L523.5,194.7 L524.5,195.4 L525.5,197.4 L526.5,198.9 L527.5,198.4 L528.5,199.7 L529.5,200.9 L530.5,200.7 L531.5,200.9 L532.5,202.6 L533.5,202.2 L534.5,202.8 L535.5,203.8 L536.5,204.1 L537.5,203.0 L538.5,203.0 L539.5,203.9 L540.5,203.7 L541.5,202.3 L542.5,205.0 L543.0,204.0" fill="none" stroke="#00ff00" stroke-width="1.25" stroke-linejoin="round"/>
<path d="M300.5,240.5 L301.5,240.8 L302.5,240.4 L303.5,240.6 L304.5,240.6 L305.5,241.6 L306.5,241.6 L307.5,241.8 L308.5,241.7 L309.5,241.9 L310.5,241.6 L311.5,242.4 L312.5,242.0 L313.5,242.2 L314.5,242.4 L315.5,242.4 L316.5,242.8 L317.5,242.6 L318.5,242.7 L319.5,242.7 L320.5,242.9 L321.5,242.6 L322.5,242.7 L323.5,242.8 L324.5,242.4 L325.5,242.6 L326.5,242.6 L327.5,242.3 L328.5,241.5 L329.5,240.5 L330.5,240.0 L331.5,238.7 L332.5,237.6 L333.5,236.4 L334.5,235.1 L335.5,233.9 L336.5,233.0 L337.5,231.7 L338.5,231.0 L339.5,230.6 L340.5,230.5 L341.5,231.0 L342.5,231.5 L343.5,232.2 L344.5,233.1 L345.5,234.4 L346.5,235.9 L347.5,237.0 L348.5,237.4 L349.5,239.2 L350.5,239.7 L351.5,240.7 L352.5,241.9 L353.5,242.4 L354.5,243.7 L355.5,244.3 L356.5,244.7 L357.5,245.0 L358.5,245.7 L359.5,245.9 L360.5,245.7 L361.5,246.0 L362.5,245.8 L363.5,245.8 L364.5,245.6 L365.5,245.8 L366.5,245.6 L367.5,245.3 L368.5,246.0 L369.5,245.4 L370.5,245.2 L371.5,245.2 L372.5,244.7 L373.5,244.3 L374.5,243.7 L375.5,242.8 L376.5,242.6 L377.5,241.8 L378.5,241.0 L379.5,240.6 L380.5,239.8 L381.5,238.8 L382.5,238.0 L383.5,237.0 L384.5,236.0 L385.5,234.8 L386.5,233.6 L387.5,232.1 L388.5,231.2 L389.5,230.1 L390.5,229.5 L391.5,228.6 L392.5,228.1 L393.5,228.5 L394.5,229.5 L395.5,229.9 L396.5,230.7 L397.5,232.2 L398.5,233.0 L399.5,234.6 L400.5,236.6 L401.5,238.4 L402.5,240.3 L403.5,242.3 L404.5,244.2 L405.5,246.1 L406.5,247.1 L407.5,248.4 L408.5,249.6 L409.5,250.4 L410.5,250.2 L411.5,251.0 L412.5,251.6 L413.5,251.6 L414.5,251.8 L415.5,252.4 L416.5,252.4 L417.5,252.6 L418.5,252.8 L419.5,252.8 L420.5,252.8 L421.5,253.6 L422.5,253.8 L423.5,253.7 L424.5,253.7 L425.5,253.9 L426.5,253.9 L427.5,253.7 L428.5,253.9 L429.5,254.3 L430.5,254.3 L431.5,254.2 L432.5,254.4 L433.5,254.9 L434.5,254.5 L435.5,255.0 L436.5,254.8 L437.5,254.4 L438.5,254.3 L439.5,254.1 L440.5,253.7 L441.5,253.2 L442.5,252.7 L443.5,251.5 L444.5,249.9 L445.5,248.6 L446.5,246.8 L447.5,245.0 L448.5,243.3 L449.5,241.3 L450.5,240.4 L451.5,239.5 L452.5,239.1 L453.5,239.1 L454.5,239.8 L455.5,240.3 L456.5,240.9 L457.5,240.8 L458.5,241.4 L459.5,241.5 L460.5,240.9 L461.5,240.5 L462.5,240.5 L463.5,240.6 L464.5,240.1 L465.5,239.9 L466.5,239.7 L467.5,239.8 L468.5,239.9 L469.5,240.1 L470.5,241.4 L471.5,242.9 L472.5,244.1 L473.5,245.7 L474.5,247.2 L475.5,248.6 L476.5,249.8 L477.5,251.4 L478.5,252.3 L479.5,253.1 L480.5,253.8 L481.5,254.9 L482.5,255.6 L483.5,255.7 L484.5,255.8 L485.5,255.8 L486.5,255.4 L487.5,255.0 L488.5,254.1 L489.5,253.8 L490.5,253.5 L491.5,252.5 L492.5,252.3 L493.5,250.9 L494.5,250.1 L495.5,249.5 L496.5,247.6 L497.5,246.7 L498.5,244.7 L499.5,242.9 L500.5,241.1 L501.5,239.0 L502.5,236.9 L503.5,234.4 L504.5,231.9 L505.5,229.0 L506.5,226.6 L507.5,223.4 L508.5,221.1 L509.5,218.1 L510.5,215.7 L511.5,213.8 L512.5,212.2 L513.5,212.0 L514.5,211.9 L515.5,212.8 L516.5,214.6 L517.5,216.5 L518.5,219.1 L519.5,222.2 L520.5,225.9 L521.5,229.5 L522.5,233.8 L523.5,238.6 L524.5,242.8 L525.5,247.1 L526.5,251.3 L527.5,254.6 L528.5,256.9 L529.5,258.6 L530.5,259.9 L531.5,260.4 L532.5,261.0 L533.5,261.8 L534.5,262.0 L535.5,262.3 L536.5,262.5 L537.5,262.6 L538.5,262.9 L539.5,263.1 L540.5,263.0 L541.5,263.4 L542.5,263.5 L543.0,263.3" fill="none" stroke="#222222" stroke-width="1.2" stroke-linejoin="round"/>
<path d="M27.5,317.6 L27.9,317.6 L28.3,317.6 L28.7,317.6 L29.1,317.6 L29.5,317.6 L29.9,317.6 L30.3,317.6 L30.7,317.6 L31.1,317.6 L31.5,317.6 L31.9,317.6 L32.3,317.6 L32.7,317.6 L33.1,317.6 L33.5,317.6 L33.9,317.6 L34.3,317.6 L34.7,317.6 L35.1,317.6 L35.5,317.6 L35.9,317.6 L36.3,317.6 L36.7,317.6 L37.1,317.6 L37.5,317.6 L37.9,317.6 L38.3,317.6 L38.7,317.6 L39.1,317.6 L39.5,317.6 L39.9,317.7 L40.3,317.7 L40.7,317.7 L41.1,317.7 L41.5,317.7 L41.9,317.7 L42.3,317.7 L42.7,317.7 L43.1,317.7 L43.5,317.7 L43.9,317.7 L44.3,317.7 L44.7,317.7 L45.1,317.7 L45.5,317.7 L45.9,317.7 L46.3,317.7 L46.7,317.7 L47.1,317.7 L47.5,317.7 L47.9,317.7 L48.3,317.7 L48.7,317.7 L49.1,317.7 L49.5,317.7 L49.9,317.7 L50.3,317.7 L50.7,317.7 L51.1,317.7 L51.5,317.7 L51.9,317.7 L52.3,317.7 L52.7,317.7 L53.1,317.7 L53.5,317.7 L53.9,317.7 L54.3,317.7 L54.7,317.7 L55.1,317.7 L55.5,317.7 L55.9,317.7 L56.3,317.7 L56.7,317.7 L57.1,317.7 L57.5,317.7 L57.9,317.7 L58.3,317.7 L58.7,317.7 L59.1,317.7 L59.5,317.7 L59.9,317.7 L60.3,317.7 L60.7,317.8 L61.1,317.8 L61.5,317.8 L61.9,317.8 L62.3,317.8 L62.7,317.8 L63.1,317.8 L63.5,317.8 L63.9,317.8 L64.3,317.8 L64.7,317.8 L65.1,317.8 L65.5,317.8 L65.9,317.8 L66.3,317.8 L66.7,317.8 L67.1,317.8 L67.5,317.8 L67.9,317.8 L68.3,317.8 L68.7,317.8 L69.1,317.8 L69.5,317.8 L69.9,317.8 L70.3,317.8 L70.7,317.8 L71.1,317.8 L71.5,317.8 L71.9,317.8 L72.3,317.8 L72.7,317.8 L73.1,317.8 L73.5,317.8 L73.9,317.8 L74.3,317.8 L74.7,317.8 L75.1,317.8 L75.5,317.8 L75.9,317.8 L76.3,317.8 L76.7,317.8 L77.1,317.8 L77.5,317.8 L77.9,317.8 L78.3,317.8 L78.7,317.8 L79.1,317.8 L79.5,317.8 L79.9,317.8 L80.3,317.8 L80.7,317.8 L81.1,317.8 L81.5,317.8 L81.9,317.8 L82.3,317.8 L82.7,317.8 L83.1,317.8 L83.5,317.8 L83.9,317.8 L84.3,317.8 L84.7,317.8 L85.1,317.8 L85.5,317.8 L85.9,317.8 L86.3,317.8 L86.7,317.8 L87.1,317.8 L87.5,317.8 L87.9,317.8 L88.3,317.8 L88.7,317.8 L89.1,317.8 L89.5,317.8 L89.9,317.8 L90.3,317.8 L90.7,317.8 L91.1,317.8 L91.5,317.8 L91.9,317.8 L92.3,317.8 L92.7,317.8 L93.1,317.8 L93.5,317.8 L93.9,317.8 L94.3,317.8 L94.7,317.8 L95.1,317.8 L95.5,317.8 L95.9,317.8 L96.3,317.8 L96.7,317.8 L97.1,317.8 L97.5,317.8 L97.9,317.8 L98.3,317.8 L98.7,317.8 L99.1,317.8 L99.5,317.8 L99.9,317.7 L100.3,317.7 L100.7,317.7 L101.1,317.7 L101.5,317.7 L101.9,317.7 L102.3,317.7 L102.7,317.7 L103.1,317.7 L103.5,317.7 L103.9,317.7 L104.3,317.7 L104.7,317.7 L105.1,317.7 L105.5,317.7 L105.9,317.7 L106.3,317.7 L106.7,317.6 L107.1,317.6 L107.5,317.6 L107.9,317.6 L108.3,317.5 L108.7,317.5 L109.1,317.4 L109.5,317.4 L109.9,317.3 L110.3,317.3 L110.7,317.2 L111.1,317.1 L111.5,317.0 L111.9,316.9 L112.3,316.7 L112.7,316.5 L113.1,316.3 L113.5,316.0 L113.9,315.7 L114.3,315.3 L114.7,314.8 L115.1,314.2 L115.5,313.5 L115.9,312.6 L116.3,311.7 L116.7,310.7 L117.1,309.6 L117.5,308.4 L117.9,307.2 L118.3,306.0 L118.7,305.0 L119.1,304.2 L119.5,303.7 L119.9,303.6 L120.3,303.9 L120.7,304.6 L121.1,305.5 L121.5,306.7 L121.9,307.9 L122.3,309.1 L122.7,310.3 L123.1,311.4 L123.5,312.4 L123.9,313.3 L124.3,314.1 L124.7,314.7 L125.1,315.3 L125.5,315.8 L125.9,316.2 L126.3,316.5 L126.7,316.8 L127.1,317.0 L127.5,317.2 L127.9,317.4 L128.3,317.5 L128.7,317.7 L129.1,317.8 L129.5,317.9 L129.9,317.9 L130.3,318.0 L130.7,318.1 L131.1,318.2 L131.5,318.2 L131.9,318.3 L132.3,318.3 L132.7,318.4 L133.1,318.4 L133.5,318.4 L133.9,318.5 L134.3,318.5 L134.7,318.5 L135.1,318.6 L135.5,318.6 L135.9,318.6 L136.3,318.7 L136.7,318.7 L137.1,318.7 L137.5,318.7 L137.9,318.7 L138.3,318.8 L138.7,318.8 L139.1,318.8 L139.5,318.8 L139.9,318.8 L140.3,318.9 L140.7,318.9 L141.1,318.9 L141.5,318.9 L141.9,318.9 L142.3,318.9 L142.7,319.0 L143.1,319.0 L143.5,319.0 L143.9,319.0 L144.3,319.0 L144.7,319.0 L145.1,319.0 L145.5,319.0 L145.9,319.1 L146.3,319.1 L146.7,319.1 L147.1,319.1 L147.5,319.1 L147.9,319.1 L148.3,319.1 L148.7,319.1 L149.1,319.1 L149.5,319.2 L149.9,319.2 L150.3,319.2 L150.7,319.2 L151.1,319.2 L151.5,319.2 L151.9,319.2 L152.3,319.2 L152.7,319.2 L153.1,319.3 L153.5,319.3 L153.9,319.3 L154.3,319.3 L154.7,319.3 L155.1,319.3 L155.5,319.3 L155.9,319.3 L156.3,319.3 L156.7,319.3 L157.1,319.3 L157.5,319.4 L157.9,319.4 L158.3,319.4 L158.7,319.4 L159.1,319.4 L159.5,319.4 L159.9,319.4 L160.3,319.4 L160.7,319.4 L161.1,319.4 L161.5,319.4 L161.9,319.4 L162.3,319.4 L162.7,319.4 L163.1,319.5 L163.5,319.5 L163.9,319.5 L164.3,319.5 L164.7,319.5 L165.1,319.5 L165.5,319.5 L165.9,319.5 L166.3,319.5 L166.7,319.5 L167.1,319.5 L167.5,319.5 L167.9,319.5 L168.3,319.5 L168.7,319.5 L169.1,319.5 L169.5,319.5 L169.9,319.5 L170.3,319.5 L170.7,319.5 L171.1,319.5 L171.5,319.5 L171.9,319.6 L172.3,319.6 L172.7,319.6 L173.1,319.6 L173.5,319.6 L173.9,319.6 L174.3,319.6 L174.7,319.6 L175.1,319.6 L175.5,319.6 L175.9,319.6 L176.3,319.6 L176.7,319.6 L177.1,319.6 L177.5,319.6 L177.9,319.6 L178.3,319.6 L178.7,319.6 L179.1,319.6 L179.5,319.6 L179.9,319.6 L180.3,319.6 L180.7,319.6 L181.1,319.6 L181.5,319.6 L181.9,319.7 L182.3,319.7 L182.7,319.7 L183.1,319.7 L183.5,319.7 L183.9,319.7 L184.3,319.7 L184.7,319.7 L185.1,319.7 L185.5,319.7 L185.9,319.7 L186.3,319.7 L186.7,319.7 L187.1,319.7 L187.5,319.7 L187.9,319.7 L188.3,319.7 L188.7,319.7 L189.1,319.7 L189.5,319.7 L189.9,319.7 L190.3,319.7 L190.7,319.7 L191.1,319.7 L191.5,319.7 L191.9,319.7 L192.3,319.7 L192.7,319.7 L193.1,319.7 L193.5,319.8 L193.9,319.8 L194.3,319.8 L194.7,319.8 L195.1,319.8 L195.5,319.8 L195.9,319.8 L196.3,319.8 L196.7,319.8 L197.1,319.8 L197.5,319.8 L197.9,319.8 L198.3,319.8 L198.7,319.8 L199.1,319.8 L199.5,319.8 L199.9,319.8 L200.3,319.8 L200.7,319.8 L201.1,319.8 L201.5,319.8 L201.9,319.8 L202.3,319.8 L202.7,319.8 L203.1,319.8 L203.5,319.8 L203.9,319.8 L204.3,319.8 L204.7,319.8 L205.1,319.8 L205.5,319.8 L205.9,319.8 L206.3,319.8 L206.7,319.8 L207.1,319.8 L207.5,319.8 L207.9,319.8 L208.3,319.8 L208.7,319.8 L209.1,319.8 L209.5,319.8 L209.9,319.8 L210.3,319.8 L210.7,319.8 L211.1,319.8 L211.5,319.8 L211.9,319.8 L212.3,319.8 L212.7,319.8 L213.1,319.8 L213.5,319.8 L213.9,319.8 L214.3,319.8 L214.7,319.8 L215.1,319.8 L215.5,319.8 L215.9,319.8 L216.3,319.8 L216.7,319.8 L217.1,319.8 L217.5,319.8 L217.9,319.8 L218.3,319.8 L218.7,319.8 L219.1,319.8 L219.5,319.7 L219.9,319.7 L220.3,319.7 L220.7,319.7 L221.1,319.7 L221.5,319.7 L221.9,319.7 L222.3,319.7 L222.7,319.7 L223.1,319.7 L223.5,319.7 L223.9,319.7 L224.3,319.7 L224.7,319.7 L225.1,319.7 L225.5,319.7 L225.9,319.7 L226.3,319.6 L226.7,319.6 L227.1,319.6 L227.5,319.5 L227.9,319.5 L228.3,319.5 L228.7,319.4 L229.1,319.4 L229.5,319.3 L229.9,319.2 L230.3,319.1 L230.7,319.0 L231.1,318.9 L231.5,318.8 L231.9,318.6 L232.3,318.4 L232.7,318.1 L233.1,317.8 L233.5,317.3 L233.9,316.7 L234.3,315.9 L234.7,314.7 L235.1,313.3 L235.5,311.4 L235.9,309.0 L236.3,306.0 L236.7,302.4 L237.1,298.3 L237.5,293.6 L237.9,288.6 L238.3,283.5 L238.7,278.7 L239.1,274.5 L239.5,271.5 L239.9,270.2 L240.3,270.7 L240.7,272.9 L241.1,276.6 L241.5,281.3 L241.9,286.4 L242.3,291.5 L242.7,296.4 L243.1,300.9 L243.5,304.8 L243.9,308.2 L244.3,310.9 L244.7,313.1 L245.1,314.8 L245.5,316.2 L245.9,317.2 L246.3,317.9 L246.7,318.5 L247.1,319.0 L247.5,319.3 L247.9,319.6 L248.3,319.8 L248.7,320.0 L249.1,320.2 L249.5,320.4 L249.9,320.5 L250.3,320.6 L250.7,320.7 L251.1,320.8 L251.5,320.9 L251.9,321.0 L252.3,321.1 L252.7,321.2 L253.1,321.2 L253.5,321.3 L253.9,321.3 L254.3,321.4 L254.7,321.4 L255.1,321.5 L255.5,321.5 L255.9,321.6 L256.3,321.6 L256.7,321.7 L257.1,321.7 L257.5,321.7 L257.9,321.8 L258.3,321.8 L258.7,321.9 L259.1,321.9 L259.5,321.9 L259.9,322.0 L260.3,322.0 L260.7,322.0 L261.1,322.0 L261.5,322.1 L261.9,322.1 L262.3,322.1 L262.7,322.1 L263.1,322.2 L263.5,322.2 L263.9,322.2 L264.3,322.2 L264.7,322.2 L265.1,322.2 L265.5,322.3 L265.9,322.3 L266.3,322.3 L266.7,322.3 L267.1,322.3 L267.5,322.3 L267.9,322.4 L268.3,322.4 L268.7,322.4 L269.1,322.4 L269.5,322.4" fill="none" stroke="#b84e2c" stroke-width="1.25" stroke-linejoin="round"/>
<path d="M300.5,317.9 L300.9,317.9 L301.3,317.9 L301.7,317.9 L302.1,317.9 L302.5,317.9 L302.9,317.9 L303.3,317.9 L303.7,317.9 L304.1,317.9 L304.5,317.9 L304.9,317.9 L305.3,317.9 L305.7,317.9 L306.1,317.9 L306.5,317.9 L306.9,317.9 L307.3,317.9 L307.7,317.9 L308.1,317.9 L308.5,317.9 L308.9,317.9 L309.3,317.9 L309.7,317.9 L310.1,317.9 L310.5,317.9 L310.9,317.9 L311.3,317.9 L311.7,317.9 L312.1,317.9 L312.5,317.9 L312.9,317.9 L313.3,317.9 L313.7,317.9 L314.1,317.9 L314.5,317.9 L314.9,317.9 L315.3,317.9 L315.7,317.9 L316.1,317.9 L316.5,317.9 L316.9,318.0 L317.3,318.0 L317.7,318.0 L318.1,318.0 L318.5,318.0 L318.9,318.0 L319.3,318.0 L319.7,318.0 L320.1,318.0 L320.5,318.0 L320.9,318.0 L321.3,318.0 L321.7,318.0 L322.1,318.0 L322.5,318.0 L322.9,318.0 L323.3,318.0 L323.7,318.0 L324.1,318.0 L324.5,318.0 L324.9,318.0 L325.3,318.0 L325.7,318.0 L326.1,318.0 L326.5,318.0 L326.9,318.0 L327.3,318.0 L327.7,318.0 L328.1,318.0 L328.5,318.0 L328.9,318.0 L329.3,318.0 L329.7,318.0 L330.1,318.0 L330.5,318.0 L330.9,318.0 L331.3,318.0 L331.7,318.0 L332.1,318.0 L332.5,318.0 L332.9,318.0 L333.3,318.0 L333.7,318.0 L334.1,318.0 L334.5,318.0 L334.9,318.0 L335.3,318.0 L335.7,318.0 L336.1,318.0 L336.5,318.0 L336.9,318.0 L337.3,318.0 L337.7,318.0 L338.1,318.0 L338.5,318.0 L338.9,318.0 L339.3,318.0 L339.7,318.0 L340.1,318.0 L340.5,318.0 L340.9,318.0 L341.3,318.0 L341.7,318.0 L342.1,318.0 L342.5,318.0 L342.9,318.0 L343.3,318.0 L343.7,318.0 L344.1,318.0 L344.5,318.0 L344.9,318.0 L345.3,318.0 L345.7,318.0 L346.1,318.0 L346.5,318.0 L346.9,318.0 L347.3,318.0 L347.7,318.1 L348.1,318.1 L348.5,318.1 L348.9,318.1 L349.3,318.1 L349.7,318.1 L350.1,318.1 L350.5,318.1 L350.9,318.1 L351.3,318.1 L351.7,318.1 L352.1,318.1 L352.5,318.1 L352.9,318.1 L353.3,318.1 L353.7,318.1 L354.1,318.1 L354.5,318.1 L354.9,318.1 L355.3,318.1 L355.7,318.1 L356.1,318.1 L356.5,318.1 L356.9,318.1 L357.3,318.1 L357.7,318.1 L358.1,318.1 L358.5,318.1 L358.9,318.1 L359.3,318.1 L359.7,318.1 L360.1,318.1 L360.5,318.1 L360.9,318.1 L361.3,318.1 L361.7,318.1 L362.1,318.1 L362.5,318.1 L362.9,318.1 L363.3,318.1 L363.7,318.0 L364.1,318.0 L364.5,318.0 L364.9,318.0 L365.3,318.0 L365.7,318.0 L366.1,318.0 L366.5,318.0 L366.9,318.0 L367.3,318.0 L367.7,318.0 L368.1,318.0 L368.5,318.0 L368.9,318.0 L369.3,318.0 L369.7,318.0 L370.1,318.0 L370.5,318.0 L370.9,318.0 L371.3,318.0 L371.7,318.0 L372.1,318.0 L372.5,318.0 L372.9,318.0 L373.3,318.0 L373.7,318.0 L374.1,318.0 L374.5,318.0 L374.9,318.0 L375.3,318.0 L375.7,318.0 L376.1,318.0 L376.5,318.0 L376.9,318.0 L377.3,318.0 L377.7,317.9 L378.1,317.9 L378.5,317.9 L378.9,317.9 L379.3,317.9 L379.7,317.9 L380.1,317.8 L380.5,317.8 L380.9,317.8 L381.3,317.7 L381.7,317.7 L382.1,317.7 L382.5,317.6 L382.9,317.5 L383.3,317.5 L383.7,317.4 L384.1,317.3 L384.5,317.2 L384.9,317.0 L385.3,316.9 L385.7,316.7 L386.1,316.4 L386.5,316.1 L386.9,315.8 L387.3,315.3 L387.7,314.8 L388.1,314.2 L388.5,313.4 L388.9,312.6 L389.3,311.7 L389.7,310.6 L390.1,309.5 L390.5,308.3 L390.9,307.0 L391.3,305.9 L391.7,304.9 L392.1,304.2 L392.5,303.8 L392.9,303.8 L393.3,304.2 L393.7,304.9 L394.1,306.0 L394.5,307.1 L394.9,308.4 L395.3,309.6 L395.7,310.7 L396.1,311.8 L396.5,312.8 L396.9,313.6 L397.3,314.4 L397.7,315.0 L398.1,315.6 L398.5,316.0 L398.9,316.4 L399.3,316.7 L399.7,317.0 L400.1,317.2 L400.5,317.4 L400.9,317.6 L401.3,317.7 L401.7,317.8 L402.1,317.9 L402.5,318.0 L402.9,318.1 L403.3,318.1 L403.7,318.2 L404.1,318.3 L404.5,318.3 L404.9,318.4 L405.3,318.4 L405.7,318.4 L406.1,318.5 L406.5,318.5 L406.9,318.5 L407.3,318.6 L407.7,318.6 L408.1,318.6 L408.5,318.7 L408.9,318.7 L409.3,318.7 L409.7,318.7 L410.1,318.8 L410.5,318.8 L410.9,318.8 L411.3,318.8 L411.7,318.8 L412.1,318.9 L412.5,318.9 L412.9,318.9 L413.3,318.9 L413.7,318.9 L414.1,318.9 L414.5,318.9 L414.9,319.0 L415.3,319.0 L415.7,319.0 L416.1,319.0 L416.5,319.0 L416.9,319.0 L417.3,319.0 L417.7,319.0 L418.1,319.1 L418.5,319.1 L418.9,319.1 L419.3,319.1 L419.7,319.1 L420.1,319.1 L420.5,319.1 L420.9,319.1 L421.3,319.1 L421.7,319.2 L422.1,319.2 L422.5,319.2 L422.9,319.2 L423.3,319.2 L423.7,319.2 L424.1,319.2 L424.5,319.2 L424.9,319.2 L425.3,319.2 L425.7,319.2 L426.1,319.3 L426.5,319.3 L426.9,319.3 L427.3,319.3 L427.7,319.3 L428.1,319.3 L428.5,319.3 L428.9,319.3 L429.3,319.3 L429.7,319.3 L430.1,319.3 L430.5,319.4 L430.9,319.4 L431.3,319.4 L431.7,319.4 L432.1,319.4 L432.5,319.4 L432.9,319.4 L433.3,319.4 L433.7,319.4 L434.1,319.4 L434.5,319.4 L434.9,319.4 L435.3,319.4 L435.7,319.5 L436.1,319.5 L436.5,319.5 L436.9,319.5 L437.3,319.5 L437.7,319.5 L438.1,319.5 L438.5,319.5 L438.9,319.5 L439.3,319.5 L439.7,319.5 L440.1,319.5 L440.5,319.5 L440.9,319.6 L441.3,319.6 L441.7,319.6 L442.1,319.6 L442.5,319.6 L442.9,319.6 L443.3,319.6 L443.7,319.6 L444.1,319.6 L444.5,319.6 L444.9,319.6 L445.3,319.6 L445.7,319.6 L446.1,319.6 L446.5,319.7 L446.9,319.7 L447.3,319.7 L447.7,319.7 L448.1,319.7 L448.5,319.7 L448.9,319.7 L449.3,319.7 L449.7,319.7 L450.1,319.7 L450.5,319.7 L450.9,319.7 L451.3,319.7 L451.7,319.7 L452.1,319.7 L452.5,319.8 L452.9,319.8 L453.3,319.8 L453.7,319.8 L454.1,319.8 L454.5,319.8 L454.9,319.8 L455.3,319.8 L455.7,319.8 L456.1,319.8 L456.5,319.8 L456.9,319.8 L457.3,319.8 L457.7,319.8 L458.1,319.8 L458.5,319.9 L458.9,319.9 L459.3,319.9 L459.7,319.9 L460.1,319.9 L460.5,319.9 L460.9,319.9 L461.3,319.9 L461.7,319.9 L462.1,319.9 L462.5,319.9 L462.9,319.9 L463.3,319.9 L463.7,319.9 L464.1,319.9 L464.5,320.0 L464.9,320.0 L465.3,320.0 L465.7,320.0 L466.1,320.0 L466.5,320.0 L466.9,320.0 L467.3,320.0 L467.7,320.0 L468.1,320.0 L468.5,320.0 L468.9,320.0 L469.3,320.0 L469.7,320.0 L470.1,320.0 L470.5,320.0 L470.9,320.0 L471.3,320.1 L471.7,320.1 L472.1,320.1 L472.5,320.1 L472.9,320.1 L473.3,320.1 L473.7,320.1 L474.1,320.1 L474.5,320.1 L474.9,320.1 L475.3,320.1 L475.7,320.1 L476.1,320.1 L476.5,320.1 L476.9,320.1 L477.3,320.1 L477.7,320.1 L478.1,320.1 L478.5,320.1 L478.9,320.1 L479.3,320.1 L479.7,320.2 L480.1,320.2 L480.5,320.2 L480.9,320.2 L481.3,320.2 L481.7,320.2 L482.1,320.2 L482.5,320.2 L482.9,320.2 L483.3,320.2 L483.7,320.2 L484.1,320.2 L484.5,320.2 L484.9,320.2 L485.3,320.2 L485.7,320.2 L486.1,320.2 L486.5,320.2 L486.9,320.2 L487.3,320.2 L487.7,320.3 L488.1,320.3 L488.5,320.3 L488.9,320.3 L489.3,320.3 L489.7,320.3 L490.1,320.3 L490.5,320.3 L490.9,320.3 L491.3,320.3 L491.7,320.3 L492.1,320.3 L492.5,320.3 L492.9,320.2 L493.3,320.2 L493.7,320.2 L494.1,320.2 L494.5,320.2 L494.9,320.2 L495.3,320.2 L495.7,320.2 L496.1,320.2 L496.5,320.2 L496.9,320.2 L497.3,320.1 L497.7,320.1 L498.1,320.1 L498.5,320.1 L498.9,320.0 L499.3,320.0 L499.7,320.0 L500.1,319.9 L500.5,319.9 L500.9,319.8 L501.3,319.8 L501.7,319.7 L502.1,319.7 L502.5,319.6 L502.9,319.5 L503.3,319.4 L503.7,319.3 L504.1,319.2 L504.5,319.0 L504.9,318.8 L505.3,318.6 L505.7,318.3 L506.1,318.0 L506.5,317.5 L506.9,316.8 L507.3,315.9 L507.7,314.7 L508.1,313.2 L508.5,311.2 L508.9,308.6 L509.3,305.5 L509.7,301.8 L510.1,297.5 L510.5,292.7 L510.9,287.7 L511.3,282.6 L511.7,277.9 L512.1,273.9 L512.5,271.3 L512.9,270.4 L513.3,271.4 L513.7,274.1 L514.1,278.0 L514.5,282.8 L514.9,287.9 L515.3,293.0 L515.7,297.9 L516.1,302.2 L516.5,306.0 L516.9,309.2 L517.3,311.8 L517.7,313.8 L518.1,315.4 L518.5,316.7 L518.9,317.6 L519.3,318.3 L519.7,318.9 L520.1,319.3 L520.5,319.6 L520.9,319.9 L521.3,320.1 L521.7,320.2 L522.1,320.4 L522.5,320.5 L522.9,320.7 L523.3,320.8 L523.7,320.9 L524.1,320.9 L524.5,321.0 L524.9,321.1 L525.3,321.2 L525.7,321.2 L526.1,321.3 L526.5,321.4 L526.9,321.4 L527.3,321.5 L527.7,321.5 L528.1,321.6 L528.5,321.6 L528.9,321.6 L529.3,321.7 L529.7,321.7 L530.1,321.8 L530.5,321.8 L530.9,321.8 L531.3,321.9 L531.7,321.9 L532.1,321.9 L532.5,321.9 L532.9,322.0 L533.3,322.0 L533.7,322.0 L534.1,322.1 L534.5,322.1 L534.9,322.1 L535.3,322.1 L535.7,322.1 L536.1,322.2 L536.5,322.2 L536.9,322.2 L537.3,322.2 L537.7,322.2 L538.1,322.2 L538.5,322.3 L538.9,322.3 L539.3,322.3 L539.7,322.3 L540.1,322.3 L540.5,322.3 L540.9,322.4 L541.3,322.4 L541.7,322.4 L542.1,322.4 L542.5,322.4 L542.9,322.4 L543.3,322.4" fill="none" stroke="#b84e2c" stroke-width="1.25" stroke-linejoin="round"/>
<text transform="translate(63.2,21.8) scale(0.95,1)" x="0" y="0" font-size="9.5" text-anchor="middle" fill="#222" style="stroke-width:0.08px">Cu(2) satellite</text>
<text transform="translate(109.2,22.2) scale(0.92,1)" x="0" y="0" font-size="11.1" fill="#111" style="stroke-width:0.05px">Cu2p<tspan font-size="8.7" dy="3.5">1/2</tspan></text>
<text transform="translate(183.8,21.8) scale(0.95,1)" x="0" y="0" font-size="9.5" text-anchor="middle" fill="#222" style="stroke-width:0.08px">Cu(2) satellite</text>
<text transform="translate(228.8,22.2) scale(0.92,1)" x="0" y="0" font-size="11.1" fill="#111" style="stroke-width:0.05px">Cu2p<tspan font-size="8.7" dy="3.5">3/2</tspan></text>
<text transform="translate(335.8,21.8) scale(0.95,1)" x="0" y="0" font-size="9.5" text-anchor="middle" fill="#222" style="stroke-width:0.08px">Cu(2) satellite</text>
<text transform="translate(381.4,22.2) scale(0.92,1)" x="0" y="0" font-size="11.1" fill="#111" style="stroke-width:0.05px">Cu2p<tspan font-size="8.7" dy="3.5">1/2</tspan></text>
<text transform="translate(456.4,21.8) scale(0.95,1)" x="0" y="0" font-size="9.5" text-anchor="middle" fill="#222" style="stroke-width:0.08px">Cu(2) satellite</text>
<text transform="translate(501.8,22.2) scale(0.92,1)" x="0" y="0" font-size="11.1" fill="#111" style="stroke-width:0.05px">Cu2p<tspan font-size="8.7" dy="3.5">3/2</tspan></text>
<text x="29.0" y="43.0" font-size="11.6" fill="#111">Calcined CZZ/FER OX 1:2</text>
<text x="29.0" y="101.7" font-size="11.6" fill="#111">Calcined CZZ/FER OX 2:1</text>
<text x="29.0" y="160.0" font-size="11.6" fill="#111">Calcined CZZ/FER WI 1:2</text>
<text x="29.0" y="216.9" font-size="11.6" fill="#111">Calcined CuZnZr</text>
<text x="29.6" y="274.7" font-size="11.6" fill="#111">Metallic Cu (reference)</text>
<text x="302.2" y="43.5" font-size="11.6" fill="#111">Spent CZZ/FER OX 1:2</text>
<text x="302.2" y="101.6" font-size="11.6" fill="#111">Spent CZZ/FER OX 2:1</text>
<text x="302.2" y="160.0" font-size="11.6" fill="#111">Spent CZZ/FER WI 1:2</text>
<text x="302.2" y="216.7" font-size="11.6" fill="#111">Spent CuZnZr</text>
<text x="302.4" y="274.5" font-size="11.6" fill="#111">Metallic Cu (reference)</text>
<text x="149.3" y="354.0" font-size="14.1" text-anchor="middle" fill="#111">Binding energy, eV</text>
<text x="423.1" y="354.0" font-size="14.1" text-anchor="middle" fill="#111">Binding energy, eV</text>
<text transform="translate(17.2,165.8) rotate(-90)" x="0" y="0" font-size="15.2" text-anchor="middle" fill="#111">Normalized signal intensity, a.u.</text>
<text transform="translate(292.5,164.8) rotate(-90)" x="0" y="0" font-size="15.2" text-anchor="middle" fill="#111">Normalized signal intensity, a.u.</text>
</svg></body></html>
